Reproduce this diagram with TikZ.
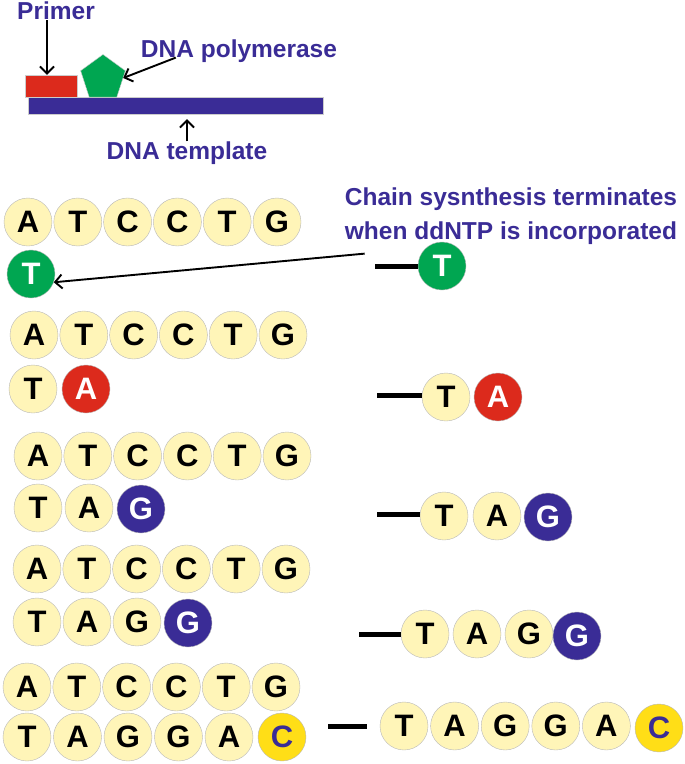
\documentclass[tikz,border=0pt]{standalone}
\usepackage{fontspec}
\setmainfont{Liberation Sans}
\usetikzlibrary{arrows.meta,shapes.geometric}

\definecolor{dnablue}{RGB}{58,44,150}
\definecolor{ddgreen}{RGB}{0,166,81}
\definecolor{ddred}{RGB}{220,42,28}
\definecolor{ddyellow}{RGB}{255,222,23}
\definecolor{cream}{RGB}{255,245,184}

\begin{document}
\begin{tikzpicture}[x=1pt, y=-1pt, >={Straight Barb[length=7pt,width=14pt]},
    base/.style={circle, draw=black!28, fill=cream, minimum size=48pt, inner sep=0pt, font=\fontsize{31}{31}\selectfont\bfseries},
    ddT/.style={base, fill=ddgreen, text=white},
    ddA/.style={base, fill=ddred, text=white},
    ddG/.style={base, fill=dnablue, text=white},
    ddC/.style={base, fill=ddyellow, text=dnablue},
    lab/.style={text=dnablue, align=center, inner sep=0pt, font=\fontsize{24.5}{34}\selectfont\bfseries},
    arr/.style={->, line width=1.9pt},
    bond/.style={line width=5pt}]
    \useasboundingbox (0,0) rectangle (685,764);

    % primer, polymerase and template
    \node[draw=black!20, fill=ddred, minimum width=52pt, minimum height=22pt, inner sep=0pt] (primer) at (51,86) {};
    \node[draw=black!20, fill=dnablue, minimum width=295pt, minimum height=17pt, inner sep=0pt] (template) at (175.5,105.5) {};
    \node[regular polygon, regular polygon sides=5, draw=black!20, fill=ddgreen, minimum size=47pt, inner sep=0pt] (pol) at (103,78) {};
    \node[lab] (primer-lab) at (56,11) {Primer};
    \node[lab] (pol-lab) at (239,51) {DNA polymerase};
    \node[lab] (template-lab) at (187,153) {DNA template};
    \draw[arr] ([xshift=-9pt]primer-lab.south) -- ([xshift=-4pt]primer.north);
    \draw[arr] ([xshift=35pt,yshift=5pt]pol-lab.south west) -- (pol.east);
    \draw[arr, shorten >=5pt] (template-lab.north) -- ([xshift=11.5pt]template.south);

    % template strands
    \foreach \r/\x/\y in {1/28/222, 2/34/335, 3/38/456, 4/37/569, 5/27/687} {
      \foreach \b [count=\i] in {A,T,C,C,T,G}
        \node[base] (t\r-\i) at ({\x+49.8*(\i-1)},\y) {\b};
    }

    % growing strands, ending in a ddNTP
    \node[ddT] (p1-1) at (31,274) {T};
    \node[base] (p2-1) at (33,389) {T};
    \node[ddA] (p2-2) at (86,389) {A};
    \node[base] (p3-1) at (38,508) {T};
    \node[base] (p3-2) at (89,508) {A};
    \node[ddG] (p3-3) at (141,509) {G};
    \foreach \b [count=\i] in {T,A,G}
      \node[base] (p4-\i) at ({37+50*(\i-1)},622) {\b};
    \node[ddG] (p4-4) at (188,623) {G};
    \foreach \b [count=\i] in {T,A,G,G,A}
      \node[base] (p5-\i) at ({27+50.5*(\i-1)},737) {\b};
    \node[ddC] (p5-6) at (282,737) {C};

    \node[lab] (chain) at (511,216) {Chain sysnthesis terminates\\when ddNTP is incorporated};
    \draw[arr] ([xshift=20pt,yshift=-9pt]chain.south west) -- (p1-1.-20);

    % terminated fragments
    \node[ddT] (r1-1) at (442,266) {T};
    \node[base] (r2-1) at (446,397) {T};
    \node[ddA] (r2-2) at (498,397) {A};
    \node[base] (r3-1) at (444,516) {T};
    \node[base] (r3-2) at (497,516) {A};
    \node[ddG] (r3-3) at (548,517) {G};
    \foreach \b [count=\i] in {T,A,G}
      \node[base] (r4-\i) at ({425+52*(\i-1)},634) {\b};
    \node[ddG] (r4-4) at (577,636) {G};
    \foreach \b [count=\i] in {T,A,G,G,A}
      \node[base] (r5-\i) at ({404+50.6*(\i-1)},726) {\b};
    \node[ddC] (r5-6) at (659,728) {C};

    \coordinate (d1) at (375,266);
    \coordinate (d2) at (377,395);
    \coordinate (d3) at (377,514);
    \coordinate (d4) at (359,634);
    \coordinate (d5) at (328,726);
    \draw[bond] (d1) -- (d1 -| r1-1.west);
    \draw[bond] (d2) -- (d2 -| r2-1.west);
    \draw[bond] (d3) -- (d3 -| r3-1.west);
    \draw[bond] (d4) -- (d4 -| r4-1.west);
    \draw[bond] (d5) -- ([xshift=-13pt]d5 -| r5-1.west);
  \end{tikzpicture}
\end{document}
